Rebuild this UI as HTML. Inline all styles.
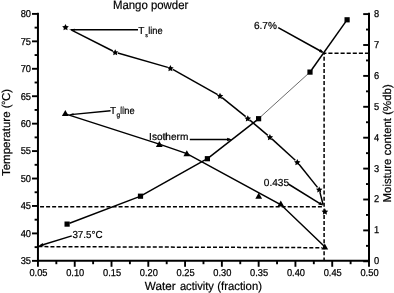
<!DOCTYPE html><html><head><meta charset="utf-8"><title>Mango powder</title><style>html,body{margin:0;padding:0;background:#fff}svg{display:block}text{text-rendering:geometricPrecision;font-family:"Liberation Sans",Arial,sans-serif;fill:#000}</style></head><body>
<svg width="394" height="293" viewBox="0 0 394 293">
<rect width="394" height="293" fill="#fff"/>
<g stroke="#000" stroke-width="2" fill="none">
<line x1="37.95" y1="12.8" x2="37.95" y2="261.85"/>
<line x1="369.0" y1="12.8" x2="369.0" y2="261.85"/>
<line x1="36.95" y1="260.85" x2="370.0" y2="260.85"/>
</g>
<g stroke="#000" stroke-width="1.9" fill="none">
<line x1="32" y1="13.90" x2="37.95" y2="13.90"/>
<line x1="34.6" y1="27.62" x2="37.95" y2="27.62"/>
<line x1="32" y1="41.34" x2="37.95" y2="41.34"/>
<line x1="34.6" y1="55.06" x2="37.95" y2="55.06"/>
<line x1="32" y1="68.78" x2="37.95" y2="68.78"/>
<line x1="34.6" y1="82.50" x2="37.95" y2="82.50"/>
<line x1="32" y1="96.22" x2="37.95" y2="96.22"/>
<line x1="34.6" y1="109.94" x2="37.95" y2="109.94"/>
<line x1="32" y1="123.66" x2="37.95" y2="123.66"/>
<line x1="34.6" y1="137.38" x2="37.95" y2="137.38"/>
<line x1="32" y1="151.09" x2="37.95" y2="151.09"/>
<line x1="34.6" y1="164.81" x2="37.95" y2="164.81"/>
<line x1="32" y1="178.53" x2="37.95" y2="178.53"/>
<line x1="34.6" y1="192.25" x2="37.95" y2="192.25"/>
<line x1="32" y1="205.97" x2="37.95" y2="205.97"/>
<line x1="34.6" y1="219.69" x2="37.95" y2="219.69"/>
<line x1="32" y1="233.41" x2="37.95" y2="233.41"/>
<line x1="34.6" y1="247.13" x2="37.95" y2="247.13"/>
<line x1="32" y1="260.85" x2="37.95" y2="260.85"/>
<line x1="363.2" y1="14.10" x2="369.0" y2="14.10"/>
<line x1="366" y1="29.55" x2="369.0" y2="29.55"/>
<line x1="363.2" y1="45.00" x2="369.0" y2="45.00"/>
<line x1="366" y1="60.45" x2="369.0" y2="60.45"/>
<line x1="363.2" y1="75.90" x2="369.0" y2="75.90"/>
<line x1="366" y1="91.35" x2="369.0" y2="91.35"/>
<line x1="363.2" y1="106.80" x2="369.0" y2="106.80"/>
<line x1="366" y1="122.25" x2="369.0" y2="122.25"/>
<line x1="363.2" y1="137.70" x2="369.0" y2="137.70"/>
<line x1="366" y1="153.15" x2="369.0" y2="153.15"/>
<line x1="363.2" y1="168.60" x2="369.0" y2="168.60"/>
<line x1="366" y1="184.05" x2="369.0" y2="184.05"/>
<line x1="363.2" y1="199.50" x2="369.0" y2="199.50"/>
<line x1="366" y1="214.95" x2="369.0" y2="214.95"/>
<line x1="363.2" y1="230.40" x2="369.0" y2="230.40"/>
<line x1="366" y1="245.85" x2="369.0" y2="245.85"/>
<line x1="363.2" y1="261.30" x2="369.0" y2="261.30"/>
<line x1="37.95" y1="260.85" x2="37.95" y2="266.8"/>
<line x1="56.34" y1="260.85" x2="56.34" y2="264.2"/>
<line x1="74.73" y1="260.85" x2="74.73" y2="266.8"/>
<line x1="93.12" y1="260.85" x2="93.12" y2="264.2"/>
<line x1="111.52" y1="260.85" x2="111.52" y2="266.8"/>
<line x1="129.91" y1="260.85" x2="129.91" y2="264.2"/>
<line x1="148.30" y1="260.85" x2="148.30" y2="266.8"/>
<line x1="166.69" y1="260.85" x2="166.69" y2="264.2"/>
<line x1="185.08" y1="260.85" x2="185.08" y2="266.8"/>
<line x1="203.47" y1="260.85" x2="203.47" y2="264.2"/>
<line x1="221.87" y1="260.85" x2="221.87" y2="266.8"/>
<line x1="240.26" y1="260.85" x2="240.26" y2="264.2"/>
<line x1="258.65" y1="260.85" x2="258.65" y2="266.8"/>
<line x1="277.04" y1="260.85" x2="277.04" y2="264.2"/>
<line x1="295.43" y1="260.85" x2="295.43" y2="266.8"/>
<line x1="313.82" y1="260.85" x2="313.82" y2="264.2"/>
<line x1="332.22" y1="260.85" x2="332.22" y2="266.8"/>
<line x1="350.61" y1="260.85" x2="350.61" y2="264.2"/>
<line x1="369.00" y1="260.85" x2="369.00" y2="266.8"/>
</g>
<g stroke="#000" stroke-width="0.25">
<text transform="translate(31.00,17.25) scale(0.93,1)" font-size="10.0" text-anchor="end">80</text>
<text transform="translate(31.00,44.69) scale(0.93,1)" font-size="10.0" text-anchor="end">75</text>
<text transform="translate(31.00,72.13) scale(0.93,1)" font-size="10.0" text-anchor="end">70</text>
<text transform="translate(31.00,99.57) scale(0.93,1)" font-size="10.0" text-anchor="end">65</text>
<text transform="translate(31.00,127.01) scale(0.93,1)" font-size="10.0" text-anchor="end">60</text>
<text transform="translate(31.00,154.44) scale(0.93,1)" font-size="10.0" text-anchor="end">55</text>
<text transform="translate(31.00,181.88) scale(0.93,1)" font-size="10.0" text-anchor="end">50</text>
<text transform="translate(31.00,209.32) scale(0.93,1)" font-size="10.0" text-anchor="end">45</text>
<text transform="translate(31.00,236.76) scale(0.93,1)" font-size="10.0" text-anchor="end">40</text>
<text transform="translate(31.00,264.20) scale(0.93,1)" font-size="10.0" text-anchor="end">35</text>
<text transform="translate(374.00,17.00) scale(0.93,1)" font-size="10.0" text-anchor="start">8</text>
<text transform="translate(374.00,47.90) scale(0.93,1)" font-size="10.0" text-anchor="start">7</text>
<text transform="translate(374.00,78.80) scale(0.93,1)" font-size="10.0" text-anchor="start">6</text>
<text transform="translate(374.00,109.70) scale(0.93,1)" font-size="10.0" text-anchor="start">5</text>
<text transform="translate(374.00,140.60) scale(0.93,1)" font-size="10.0" text-anchor="start">4</text>
<text transform="translate(374.00,171.50) scale(0.93,1)" font-size="10.0" text-anchor="start">3</text>
<text transform="translate(374.00,202.40) scale(0.93,1)" font-size="10.0" text-anchor="start">2</text>
<text transform="translate(374.00,233.30) scale(0.93,1)" font-size="10.0" text-anchor="start">1</text>
<text transform="translate(374.00,264.20) scale(0.93,1)" font-size="10.0" text-anchor="start">0</text>
<text transform="translate(38.45,276.00) scale(0.93,1)" font-size="10.0" text-anchor="middle">0.05</text>
<text transform="translate(75.23,276.00) scale(0.93,1)" font-size="10.0" text-anchor="middle">0.10</text>
<text transform="translate(112.02,276.00) scale(0.93,1)" font-size="10.0" text-anchor="middle">0.15</text>
<text transform="translate(148.80,276.00) scale(0.93,1)" font-size="10.0" text-anchor="middle">0.20</text>
<text transform="translate(185.58,276.00) scale(0.93,1)" font-size="10.0" text-anchor="middle">0.25</text>
<text transform="translate(222.37,276.00) scale(0.93,1)" font-size="10.0" text-anchor="middle">0.30</text>
<text transform="translate(259.15,276.00) scale(0.93,1)" font-size="10.0" text-anchor="middle">0.35</text>
<text transform="translate(295.93,276.00) scale(0.93,1)" font-size="10.0" text-anchor="middle">0.40</text>
<text transform="translate(332.72,276.00) scale(0.93,1)" font-size="10.0" text-anchor="middle">0.45</text>
<text transform="translate(369.50,276.00) scale(0.93,1)" font-size="10.0" text-anchor="middle">0.50</text>
</g>
<g stroke="#000" stroke-width="0.2">
<text transform="translate(144.85,290.40) scale(1.0,1)" font-size="11.7" text-anchor="start">Water</text>
<text transform="translate(179.90,290.40) scale(0.951,1)" font-size="11.7" text-anchor="start">activity</text>
<text transform="translate(217.30,290.40) scale(0.969,1)" font-size="11.7" text-anchor="start">(fraction)</text>
<text font-size="11.5" transform="translate(9.9,132.5) rotate(-90)" text-anchor="middle">Temperature (<tspan font-size="6" dy="-5.2">o</tspan><tspan dy="5.2">C)</tspan></text>
<text font-size="11.45" transform="translate(390.8,202.5) rotate(-90)" text-anchor="start">Moisture content (%db)</text>
<text transform="translate(112.90,8.70) scale(0.942,1)" font-size="12.1" text-anchor="start">Mango powder</text>
</g>
<g stroke="#000" stroke-width="1.5" fill="none" stroke-dasharray="4.1 2">
<line x1="40.06" y1="206.85" x2="322.5" y2="206.85" stroke-dasharray="4 2.04"/>
<line x1="38.4" y1="246.6" x2="322" y2="247.7" stroke-dasharray="4 2.02"/>
<line x1="324.1" y1="53" x2="324.1" y2="260.85" stroke-dasharray="4 2.08" stroke-dashoffset="2.28"/>
<line x1="324" y1="53.2" x2="369.0" y2="53.2" stroke-dasharray="4.1 1.99" stroke-dashoffset="1.7"/>
</g>
<g stroke="#000" stroke-width="1.5" fill="none" stroke-linecap="butt">
<line x1="71.57" y1="30.17" x2="112.79" y2="50.98"/>
<line x1="117.79" y1="52.95" x2="167.81" y2="67.35"/>
<line x1="172.76" y1="69.42" x2="217.64" y2="94.58"/>
<line x1="222.10" y1="97.60" x2="245.70" y2="116.70"/>
<line x1="249.86" y1="120.14" x2="267.84" y2="135.36"/>
<line x1="271.89" y1="138.92" x2="295.31" y2="160.28"/>
<line x1="298.99" y1="164.21" x2="317.51" y2="187.39"/>
<line x1="319.88" y1="192.11" x2="323.14" y2="204.72"/>
<polyline points="65.3,113.9 159.3,144.1 186.8,153.6 281.0,204.8 324.8,246.8"/>
<line x1="69.53" y1="223.18" x2="138.07" y2="197.12"/>
<line x1="142.77" y1="194.93" x2="205.13" y2="159.97"/>
<line x1="209.45" y1="157.10" x2="256.55" y2="120.30"/>
<line x1="260.53" y1="116.95" x2="308.07" y2="73.85" stroke="#5a5a5a" stroke-width="0.9"/>
<line x1="311.50" y1="69.98" x2="345.60" y2="21.92"/>
</g>
<g fill="#000" stroke="none">
<polygon points="65.50,23.95 66.53,26.03 68.83,26.37 67.16,27.99 67.56,30.28 65.50,29.20 63.44,30.28 63.84,27.99 62.17,26.37 64.47,26.03"/>
<polygon points="115.20,49.15 116.20,51.17 118.43,51.50 116.82,53.08 117.20,55.30 115.20,54.25 113.20,55.30 113.58,53.08 111.97,51.50 114.20,51.17"/>
<polygon points="170.40,65.05 171.40,67.07 173.63,67.40 172.02,68.98 172.40,71.20 170.40,70.15 168.40,71.20 168.78,68.98 167.17,67.40 169.40,67.07"/>
<polygon points="220.00,92.85 221.00,94.87 223.23,95.20 221.62,96.78 222.00,99.00 220.00,97.95 218.00,99.00 218.38,96.78 216.77,95.20 219.00,94.87"/>
<polygon points="247.80,115.35 248.80,117.37 251.03,117.70 249.42,119.28 249.80,121.50 247.80,120.45 245.80,121.50 246.18,119.28 244.57,117.70 246.80,117.37"/>
<polygon points="269.90,134.05 270.90,136.07 273.13,136.40 271.52,137.98 271.90,140.20 269.90,139.15 267.90,140.20 268.28,137.98 266.67,136.40 268.90,136.07"/>
<polygon points="297.30,159.05 298.30,161.07 300.53,161.40 298.92,162.98 299.30,165.20 297.30,164.15 295.30,165.20 295.68,162.98 294.07,161.40 296.30,161.07"/>
<polygon points="319.20,186.45 320.20,188.47 322.43,188.80 320.82,190.38 321.20,192.60 319.20,191.55 317.20,192.60 317.58,190.38 315.97,188.80 318.20,188.47"/>
<polygon points="324.90,208.35 325.93,210.43 328.23,210.77 326.56,212.39 326.96,214.68 324.90,213.60 322.84,214.68 323.24,212.39 321.57,210.77 323.87,210.43"/>
<polygon points="65.30,110.10 61.90,116.10 68.70,116.10"/>
<polygon points="159.30,140.90 155.90,146.90 162.70,146.90"/>
<polygon points="186.80,150.20 183.40,156.20 190.20,156.20"/>
<polygon points="258.70,192.70 255.30,198.70 262.10,198.70"/>
<polygon points="280.80,200.50 277.40,206.50 284.20,206.50"/>
<polygon points="324.80,243.50 321.40,249.50 328.20,249.50"/>
<rect x="64.50" y="221.50" width="5.2" height="5.2"/>
<rect x="137.90" y="193.60" width="5.2" height="5.2"/>
<rect x="204.80" y="156.10" width="5.2" height="5.2"/>
<rect x="256.00" y="116.10" width="5.2" height="5.2"/>
<rect x="307.40" y="69.50" width="5.2" height="5.2"/>
<rect x="344.50" y="17.20" width="5.2" height="5.2"/>
</g>
<line x1="138.00" y1="29.70" x2="70.80" y2="29.70" stroke="#000" stroke-width="1.40"/><polygon fill="#000" points="68.80,29.70 74.80,28.70 74.80,30.70"/>
<line x1="110.60" y1="110.80" x2="70.59" y2="114.61" stroke="#000" stroke-width="1.40"/><polygon fill="#000" points="68.60,114.80 73.48,113.33 73.67,115.32"/>
<line x1="189.80" y1="139.50" x2="229.90" y2="139.50" stroke="#000" stroke-width="1.40"/><polygon fill="#000" points="231.90,139.50 227.10,141.20 227.10,137.80"/>
<line x1="278.20" y1="27.60" x2="322.25" y2="51.93" stroke="#000" stroke-width="1.60"/><polygon fill="#000" points="324.00,52.90 318.98,52.07 320.62,49.09"/>
<line x1="288.30" y1="184.00" x2="321.60" y2="204.55" stroke="#000" stroke-width="1.50"/><polygon fill="#000" points="323.30,205.60 318.32,204.53 320.11,201.63"/>
<line x1="71.80" y1="235.90" x2="40.51" y2="245.42" stroke="#000" stroke-width="1.50"/><polygon fill="#000" points="38.60,246.00 42.70,242.98 43.69,246.23"/>
<g stroke="#000" stroke-width="0.2">
<text transform="translate(138.20,33.50) scale(0.99,1)" font-size="10.2" text-anchor="start">T</text>
<text transform="translate(145.20,36.70) scale(1.0,1)" font-size="5.4" text-anchor="start">s</text>
<text transform="translate(148.20,33.50) scale(0.91,1)" font-size="10.2" text-anchor="start">line</text>
<text transform="translate(110.10,113.80) scale(0.99,1)" font-size="10.2" text-anchor="start">T</text>
<text transform="translate(116.60,117.40) scale(1.0,1)" font-size="6.6" text-anchor="start">g</text>
<text transform="translate(120.20,113.80) scale(0.91,1)" font-size="10.2" text-anchor="start">line</text>
<rect x="120.4" y="107.7" width="4.4" height="6.1" fill="#8c8c8c" stroke="none" opacity="0.85"/>
<rect x="164.2" y="133.2" width="3" height="7" fill="#8c8c8c" stroke="none" opacity="0.7"/>
<text transform="translate(149.10,140.20) scale(0.99,1)" font-size="10.2" text-anchor="start">Isotherm</text>
<text transform="translate(253.90,29.00) scale(0.99,1)" font-size="10.2" text-anchor="start">6.7%</text>
<text transform="translate(263.80,186.30) scale(0.99,1)" font-size="10.2" text-anchor="start">0.435</text>
<text transform="translate(72.40,238.40) scale(0.965,1)" font-size="10.2" text-anchor="start">37.5°C</text>
</g>
</svg></body></html>
